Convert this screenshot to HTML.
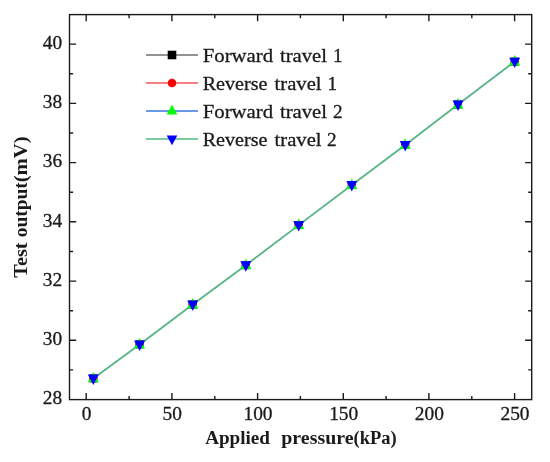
<!DOCTYPE html>
<html lang="en"><head><meta charset="utf-8"><title>Test output vs applied pressure</title>
<style>html,body{margin:0;padding:0;background:#fff;}body{width:550px;height:462px;overflow:hidden;}svg{display:block;}text{font-family:'Liberation Serif', 'DejaVu Serif', serif;fill:#1a1a1a;}.r{stroke:#1a1a1a;stroke-width:0.3px;}</style></head><body>
<svg width="550" height="462" viewBox="0 0 550 462">
<rect width="550" height="462" fill="#fff"/>
<polyline points="93.3,378.4 139.6,344.4 192.7,304.5 245.8,265.2 298.7,225.1 351.8,185.0 405.2,145.0 458.0,104.5 514.7,61.6" fill="none" stroke="#8e8e8e" stroke-width="1.0"/>
<polyline points="93.3,378.4 139.6,344.4 192.7,304.5 245.8,265.2 298.7,225.1 351.8,185.0 405.2,145.0 458.0,104.5 514.7,61.6" fill="none" stroke="#f87a7a" stroke-width="1.0"/>
<polyline points="93.3,378.4 139.6,344.4 192.7,304.5 245.8,265.2 298.7,225.1 351.8,185.0 405.2,145.0 458.0,104.5 514.7,61.6" fill="none" stroke="#6898e8" stroke-width="1.0"/>
<polyline points="93.3,378.4 139.6,344.4 192.7,304.5 245.8,265.2 298.7,225.1 351.8,185.0 405.2,145.0 458.0,104.5 514.7,61.6" fill="none" stroke="#58b888" stroke-width="1.8"/>
<rect x="89.3" y="374.4" width="8.0" height="8.0" fill="#000"/>
<rect x="135.6" y="340.4" width="8.0" height="8.0" fill="#000"/>
<rect x="188.7" y="300.5" width="8.0" height="8.0" fill="#000"/>
<rect x="241.8" y="261.2" width="8.0" height="8.0" fill="#000"/>
<rect x="294.7" y="221.1" width="8.0" height="8.0" fill="#000"/>
<rect x="347.8" y="181.0" width="8.0" height="8.0" fill="#000"/>
<rect x="401.2" y="141.0" width="8.0" height="8.0" fill="#000"/>
<rect x="454.0" y="100.5" width="8.0" height="8.0" fill="#000"/>
<rect x="510.7" y="57.6" width="8.0" height="8.0" fill="#000"/>
<circle cx="93.3" cy="378.4" r="4.1" fill="#ff0000"/>
<circle cx="139.6" cy="344.4" r="4.1" fill="#ff0000"/>
<circle cx="192.7" cy="304.5" r="4.1" fill="#ff0000"/>
<circle cx="245.8" cy="265.2" r="4.1" fill="#ff0000"/>
<circle cx="298.7" cy="225.1" r="4.1" fill="#ff0000"/>
<circle cx="351.8" cy="185.0" r="4.1" fill="#ff0000"/>
<circle cx="405.2" cy="145.0" r="4.1" fill="#ff0000"/>
<circle cx="458.0" cy="104.5" r="4.1" fill="#ff0000"/>
<circle cx="514.7" cy="61.6" r="4.1" fill="#ff0000"/>
<polygon points="93.3,371.9 98.8,382.3 87.8,382.3" fill="#00ff00"/>
<polygon points="139.6,337.9 145.1,348.3 134.1,348.3" fill="#00ff00"/>
<polygon points="192.7,298.0 198.2,308.4 187.2,308.4" fill="#00ff00"/>
<polygon points="245.8,258.7 251.3,269.1 240.3,269.1" fill="#00ff00"/>
<polygon points="298.7,218.6 304.2,229.0 293.2,229.0" fill="#00ff00"/>
<polygon points="351.8,178.5 357.3,188.9 346.3,188.9" fill="#00ff00"/>
<polygon points="405.2,138.5 410.7,148.9 399.7,148.9" fill="#00ff00"/>
<polygon points="458.0,98.0 463.5,108.4 452.5,108.4" fill="#00ff00"/>
<polygon points="514.7,55.1 520.2,65.5 509.2,65.5" fill="#00ff00"/>
<polygon points="93.3,384.9 98.8,374.5 87.8,374.5" fill="#0000ff"/>
<polygon points="139.6,350.9 145.1,340.5 134.1,340.5" fill="#0000ff"/>
<polygon points="192.7,311.0 198.2,300.6 187.2,300.6" fill="#0000ff"/>
<polygon points="245.8,271.7 251.3,261.3 240.3,261.3" fill="#0000ff"/>
<polygon points="298.7,231.6 304.2,221.2 293.2,221.2" fill="#0000ff"/>
<polygon points="351.8,191.5 357.3,181.1 346.3,181.1" fill="#0000ff"/>
<polygon points="405.2,151.5 410.7,141.1 399.7,141.1" fill="#0000ff"/>
<polygon points="458.0,111.0 463.5,100.6 452.5,100.6" fill="#0000ff"/>
<polygon points="514.7,68.1 520.2,57.7 509.2,57.7" fill="#0000ff"/>
<rect x="69.5" y="14.6" width="462.2" height="385.0" fill="none" stroke="#1a1a1a" stroke-width="1.4"/>
<path d="M86.2 399.6v-6.7M86.2 14.6v6.7M129.1 399.6v-3.6M129.1 14.6v3.6M171.9 399.6v-6.7M171.9 14.6v6.7M214.8 399.6v-3.6M214.8 14.6v3.6M257.6 399.6v-6.7M257.6 14.6v6.7M300.4 399.6v-3.6M300.4 14.6v3.6M343.3 399.6v-6.7M343.3 14.6v6.7M386.1 399.6v-3.6M386.1 14.6v3.6M428.9 399.6v-6.7M428.9 14.6v6.7M471.8 399.6v-3.6M471.8 14.6v3.6M514.6 399.6v-6.7M514.6 14.6v6.7M69.5 369.9h3.6M531.8 369.9h-3.6M69.5 340.3h6.7M531.8 340.3h-6.7M69.5 310.7h3.6M531.8 310.7h-3.6M69.5 281.1h6.7M531.8 281.1h-6.7M69.5 251.5h3.6M531.8 251.5h-3.6M69.5 221.8h6.7M531.8 221.8h-6.7M69.5 192.2h3.6M531.8 192.2h-3.6M69.5 162.6h6.7M531.8 162.6h-6.7M69.5 133.0h3.6M531.8 133.0h-3.6M69.5 103.4h6.7M531.8 103.4h-6.7M69.5 73.7h3.6M531.8 73.7h-3.6M69.5 44.1h6.7M531.8 44.1h-6.7" stroke="#1a1a1a" stroke-width="1.4" fill="none"/>
<text x="86.7" y="420.4" font-size="19.4" text-anchor="middle" class="r">0</text>
<text x="172.3" y="420.4" font-size="19.4" text-anchor="middle" class="r">50</text>
<text x="258.0" y="420.4" font-size="19.4" text-anchor="middle" class="r">100</text>
<text x="343.7" y="420.4" font-size="19.4" text-anchor="middle" class="r">150</text>
<text x="429.3" y="420.4" font-size="19.4" text-anchor="middle" class="r">200</text>
<text x="515.0" y="420.4" font-size="19.4" text-anchor="middle" class="r">250</text>
<text x="62.2" y="404.4" font-size="19.4" text-anchor="end" class="r">28</text>
<text x="62.2" y="345.1" font-size="19.4" text-anchor="end" class="r">30</text>
<text x="62.2" y="285.9" font-size="19.4" text-anchor="end" class="r">32</text>
<text x="62.2" y="226.6" font-size="19.4" text-anchor="end" class="r">34</text>
<text x="62.2" y="167.4" font-size="19.4" text-anchor="end" class="r">36</text>
<text x="62.2" y="108.2" font-size="19.4" text-anchor="end" class="r">38</text>
<text x="62.2" y="48.9" font-size="19.4" text-anchor="end" class="r">40</text>
<g font-weight="bold">
<text y="443.6" font-size="18.5"><tspan x="205.2" textLength="64.8" lengthAdjust="spacingAndGlyphs">Applied</tspan> <tspan x="281.3" textLength="72.3" lengthAdjust="spacingAndGlyphs">pressure</tspan><tspan x="353.6" textLength="43.2" lengthAdjust="spacingAndGlyphs">(kPa)</tspan></text>
</g>
<g font-weight="bold" transform="translate(26.5 0) rotate(-90)">
<text y="0" font-size="18.5"><tspan x="-277.7" textLength="35.2" lengthAdjust="spacingAndGlyphs">Test</tspan> <tspan x="-237.3" textLength="55.0" lengthAdjust="spacingAndGlyphs">output</tspan><tspan x="-182.3" textLength="45.8" lengthAdjust="spacingAndGlyphs">(mV)</tspan></text>
</g>
<line x1="146" y1="55.0" x2="198" y2="55.0" stroke="#939393" stroke-width="2"/>
<rect x="167.7" y="50.7" width="8.6" height="8.6" fill="#000"/>
<text y="62.2" font-size="19.2" class="r"><tspan x="202.7" textLength="70.4" lengthAdjust="spacingAndGlyphs">Forward</tspan> <tspan x="279.9" textLength="47.0" lengthAdjust="spacingAndGlyphs">travel</tspan> <tspan x="332.9">1</tspan></text>
<line x1="146" y1="83.0" x2="198" y2="83.0" stroke="#f98080" stroke-width="2"/>
<circle cx="172.0" cy="83.0" r="4.3" fill="#ff0000"/>
<text y="90.2" font-size="19.2" class="r"><tspan x="202.7" textLength="64.7" lengthAdjust="spacingAndGlyphs">Reverse</tspan> <tspan x="274.6" textLength="47.0" lengthAdjust="spacingAndGlyphs">travel</tspan> <tspan x="327.4">1</tspan></text>
<line x1="146" y1="111.0" x2="198" y2="111.0" stroke="#6898e8" stroke-width="2"/>
<polygon points="172.0,104.8 177.3,114.4 166.7,114.4" fill="#00ff00"/>
<text y="118.2" font-size="19.2" class="r"><tspan x="202.7" textLength="70.4" lengthAdjust="spacingAndGlyphs">Forward</tspan> <tspan x="279.9" textLength="47.0" lengthAdjust="spacingAndGlyphs">travel</tspan> <tspan x="332.9">2</tspan></text>
<line x1="146" y1="139.0" x2="198" y2="139.0" stroke="#7acca0" stroke-width="2"/>
<polygon points="172.0,145.2 177.3,135.6 166.7,135.6" fill="#0000ff"/>
<text y="146.2" font-size="19.2" class="r"><tspan x="202.7" textLength="64.7" lengthAdjust="spacingAndGlyphs">Reverse</tspan> <tspan x="274.6" textLength="47.0" lengthAdjust="spacingAndGlyphs">travel</tspan> <tspan x="327.0">2</tspan></text>
</svg></body></html>
